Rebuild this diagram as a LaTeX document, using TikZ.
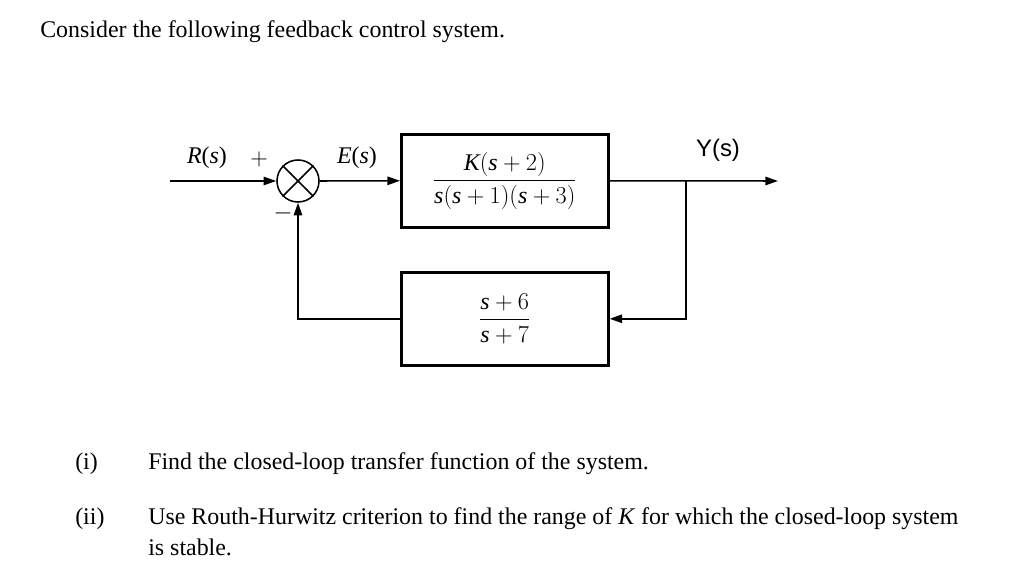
\documentclass[tikz,border=0pt]{standalone}
\usepackage{amsmath}
\usepackage{fontspec}
\setmainfont{Liberation Serif}
\newfontfamily\sansf{Liberation Sans}
\usetikzlibrary{arrows.meta}
\begin{document}
\begin{tikzpicture}[x=0.025cm,y=-0.025cm,
  txt/.style={inner sep=0pt,font=\fontsize{17}{20}\selectfont},
  blk/.style={draw,line width=1.8pt,minimum width=5.175cm,minimum height=2.325cm,inner sep=0pt},
  sig/.style={line width=1.1pt,-{Triangle[length=9pt,width=6pt]}},
  ln/.style={line width=1.1pt}]
\useasboundingbox (0,0) rectangle (1033,576);
\node[txt,anchor=west] (title) at (40,32) {Consider the following feedback control system.};
\node[draw,circle,line width=1.1pt,minimum size=1.05cm,inner sep=0pt] (sum) at (298,181) {};
\draw[line width=1.1pt] (sum.north west)--(sum.south east) (sum.north east)--(sum.south west);
\coordinate (rin) at (170,181);
\node[txt] (R) at (207,158) {\textit{R}(\textit{s})};
\node[txt] (plus) at (259,159) {$+$};
\node[txt] (minus) at (283,213) {$-$};
\node[txt] (E) at (357,158) {\textit{E}(\textit{s})};
\node[blk,anchor=north west] (G) at (400,133) {};
\node[txt] (Gf) at (G.center) {$\dfrac{\textit{K}(\textit{s}+2)}{\textit{s}(\textit{s}+1)(\textit{s}+3)}$};
\node[blk,anchor=north west] (H) at (400,271) {};
\node[txt] (Hf) at (H.center) {$\dfrac{\textit{s}+6}{\textit{s}+7}$};
\coordinate (yout) at (778,181);
\coordinate (br) at (686,181);
\node[inner sep=0pt,font=\sansf\fontsize{17}{20}\selectfont] (Y) at (718,150) {Y(s)};
\draw[sig] (rin) -- (sum.west);
\draw[sig] (sum.east) -- (G.west);
\draw[sig] (G.east) -- (yout);
\draw[sig] (br) |- (H.east);
\draw[sig] (H.west) -| (sum.south);
\node[txt,anchor=west] (i) at (75,464) {(i)};
\node[txt,anchor=west] (it) at (148,464) {Find the closed-loop transfer function of the system.};
\node[txt,anchor=west] (ii) at (75,519) {(ii)};
\node[txt,anchor=west] (iit) at (148,519) {Use Routh-Hurwitz criterion to find the range of \textit{K} for which the closed-loop system};
\node[txt,anchor=west] (iit2) at (148,547) {is stable.};
\end{tikzpicture}
\end{document}
